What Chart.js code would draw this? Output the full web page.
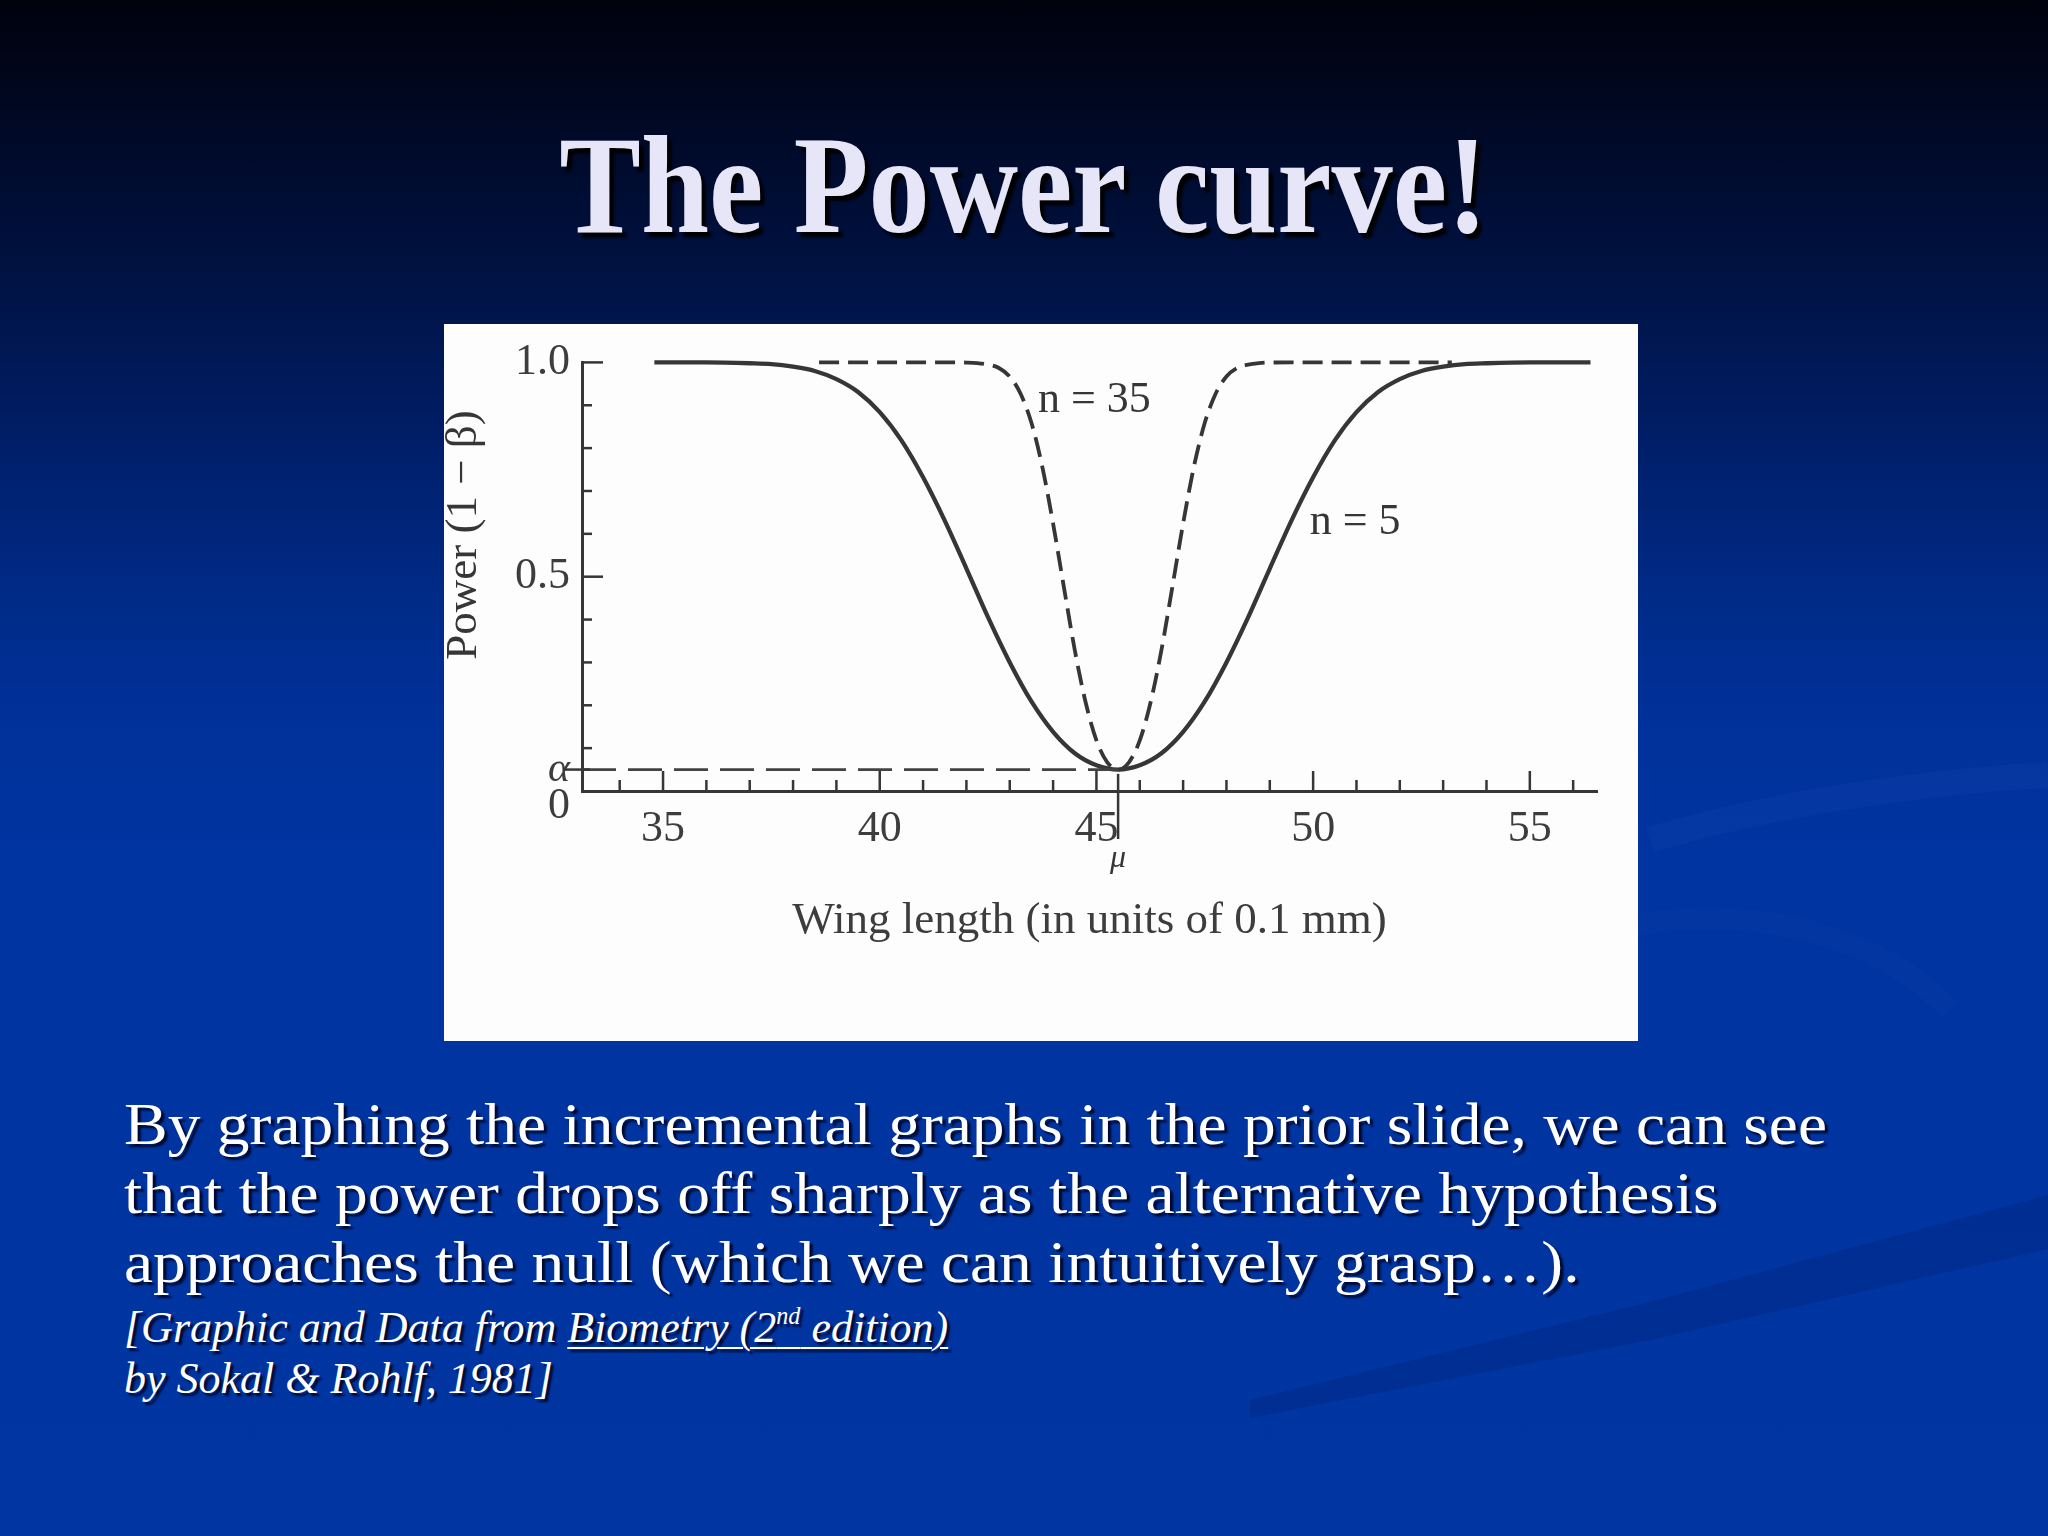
<!DOCTYPE html>
<html><head><meta charset="utf-8">
<script src="https://cdn.jsdelivr.net/npm/chart.js@4.4.1/dist/chart.umd.min.js"></script>
<style>
html,body{margin:0;padding:0;}
body{width:2048px;height:1536px;position:relative;overflow:hidden;
background:linear-gradient(to bottom,#00020c 0px,#000a2a 150px,#001448 300px,#001f6a 450px,#002b88 600px,#00319a 720px,#0034a0 850px,#0035a2 1536px);
font-family:'Liberation Serif','Times New Roman',serif;}
#bg{position:absolute;left:0;top:0;}
#title{position:absolute;left:0;width:2048px;top:105px;height:160px;line-height:160px;text-align:center;
font-weight:bold;font-size:139px;color:#e6e6f8;text-shadow:5px 5px 3px #000;white-space:nowrap;}
#title span{display:inline-block;transform:scaleX(0.88);transform-origin:center;}
#box{position:absolute;left:444px;top:324px;width:1194px;height:717px;background:#fdfdfd;}
#body{position:absolute;left:124px;top:1090px;font-size:60px;line-height:69px;color:#fff;
text-shadow:3px 3px 2px #000a30;white-space:nowrap;transform:scaleX(1.092);transform-origin:left top;}
#cite{position:absolute;left:124px;top:1302px;font-size:44px;line-height:51px;color:#fff;font-style:italic;
text-shadow:3px 3px 2px #000a30;white-space:nowrap;}
#cite u{text-decoration-thickness:2px;text-underline-offset:5px;}
#cite sup{font-size:0.55em;line-height:0;vertical-align:0.75em;}
</style></head>
<body>
<svg id="bg" width="2048" height="1536">
  <path d="M 1250 1400 L 1650 1302 L 2048 1195 L 2048 1249 L 1650 1340 L 1250 1418 Z" fill="rgba(0,20,90,0.2)"/>
  <path d="M 1650 840 C 1780 800 1950 780 2048 775" stroke="rgba(60,100,210,0.09)" stroke-width="26" fill="none"/>
  <path d="M 1500 1000 C 1600 880 1850 900 1950 1010" stroke="rgba(60,100,210,0.06)" stroke-width="22" fill="none"/>
</svg>
<div id="title"><span>The Power curve!</span></div>
<div id="box"><canvas id="c" width="1194" height="717"></canvas></div>
<div id="body">By graphing the incremental graphs in the prior slide, we can see<br>that the power drops off sharply as the alternative hypothesis<br>approaches the null (which we can intuitively grasp…).</div>
<div id="cite">[Graphic and Data from <u>Biometry (2<sup>nd</sup> edition)</u><br>by Sokal &amp; Rohlf, 1981]</div>
<script>
// ---- data ----
const n5X  = [34.8, 36.0, 37.0, 37.5, 38.0, 38.5, 39.0, 39.5, 40.0, 40.5, 41.0, 41.5, 42.0, 42.5, 43.0, 43.5, 44.0, 44.5, 45.0, 45.5, 46.0, 46.5, 47.0, 47.5, 48.0, 48.5, 49.0, 49.5, 50.0, 50.5, 51.0, 51.5, 52.0, 52.5, 53.0, 53.5, 54.0, 55.0, 56.4];
const n5Y  = [1.0, 1.0, 0.998, 0.996, 0.990, 0.980, 0.961, 0.931, 0.884, 0.818, 0.732, 0.631, 0.519, 0.405, 0.300, 0.209, 0.138, 0.088, 0.060, 0.050, 0.060, 0.088, 0.138, 0.209, 0.300, 0.405, 0.519, 0.631, 0.732, 0.818, 0.884, 0.931, 0.961, 0.980, 0.990, 0.996, 0.998, 1.0, 1.0];
const n35X = [38.6, 41.5, 42.0, 42.25, 42.5, 42.75, 43.0, 43.25, 43.5, 43.75, 44.0, 44.25, 44.5, 44.75, 45.0, 45.25, 45.5, 45.75, 46.0, 46.25, 46.5, 46.75, 47.0, 47.25, 47.5, 47.75, 48.0, 48.25, 48.5, 48.75, 49.0, 49.5, 53.2];
const n35Y = [1.0, 1.0, 0.9996, 0.9985, 0.995, 0.987, 0.967, 0.927, 0.859, 0.757, 0.624, 0.475, 0.329, 0.207, 0.118, 0.067, 0.050, 0.067, 0.118, 0.207, 0.329, 0.475, 0.624, 0.757, 0.859, 0.927, 0.967, 0.987, 0.995, 0.9985, 0.9996, 1.0, 1.0];
const alphaX = [33.13, 45.5];
const alphaY = [0.05, 0.05];
const muValue = 45.5;
const xTickValues = [34,35,36,37,38,39,40,41,42,43,44,45,46,47,48,49,50,51,52,53,54,55,56];
const xTickLabels = {35:'35', 40:'40', 45:'45', 50:'50', 55:'55'};
const yTickValues = [0,0.05,0.1,0.2,0.3,0.4,0.5,0.6,0.7,0.8,0.9,1.0];
const yTickLabels = {'0':['','0'], '0.05':'α', '0.5':'0.5', '1':'1.0'};
const seriesLabels = ['n = 5', 'n = 35', 'α level'];
const xTitle = 'Wing length (in units of 0.1 mm)';
const yTitle = 'Power (1 − β)';
const curveNotes = [{text:'n = 35', x:43.65, y:0.912}, {text:'n = 5', x:49.92, y:0.626}];

const pts = (xs, ys) => xs.map((v,i)=>({x:v, y:ys[i]}));
const INK = '#363636';
const FONT = "'Liberation Serif','Times New Roman',serif";

const decor = {
  id:'decor',
  afterDraw(chart){
    const {ctx, chartArea, scales:{x, y}} = chart;
    const left = chartArea.left, bottom = chartArea.bottom;
    ctx.save();
    ctx.strokeStyle = INK; ctx.lineWidth = 2.5; ctx.lineCap='butt';
    yTickValues.forEach(v=>{
      if (v===0) return;
      const py = y.getPixelForValue(v);
      ctx.beginPath();
      if (v===0.05){ ctx.moveTo(left-19, py); ctx.lineTo(left+8, py); }
      else { const len = (yTickLabels[String(v)]) ? 21 : 10; ctx.moveTo(left, py); ctx.lineTo(left+len, py); }
      ctx.stroke();
    });
    xTickValues.forEach(v=>{
      const px = x.getPixelForValue(v);
      const len = (v%5===0) ? 20 : 11;
      ctx.beginPath(); ctx.moveTo(px, bottom); ctx.lineTo(px, bottom-len); ctx.stroke();
    });
    const mx = x.getPixelForValue(muValue);
    ctx.beginPath(); ctx.moveTo(mx, y.getPixelForValue(0.04)); ctx.lineTo(mx, bottom+48); ctx.stroke();
    ctx.fillStyle = INK;
    ctx.font = "italic 32px " + FONT;
    ctx.textAlign='center'; ctx.textBaseline='middle';
    ctx.fillText('μ', mx, bottom+68);
    ctx.font = "44px " + FONT;
    ctx.textAlign='left';
    curveNotes.forEach(n=>{ ctx.fillText(n.text, x.getPixelForValue(n.x), y.getPixelForValue(n.y)); });
    ctx.font = "45px " + FONT;
    ctx.translate(20, 211); ctx.rotate(-Math.PI/2);
    ctx.textAlign='center'; ctx.textBaseline='middle';
    ctx.fillText(yTitle, 0, 0);
    ctx.restore();
  }
};

new Chart(document.getElementById('c'), {
  type:'scatter',
  data:{ datasets:[
    {label:seriesLabels[2], data:pts(alphaX, alphaY), showLine:true, borderColor:'#424242', borderWidth:2.8, borderDash:[34,12], pointRadius:0, clip:false},
    {label:seriesLabels[1], data:pts(n35X, n35Y), showLine:true, borderColor:INK, borderWidth:3.8, borderDash:[20,9], pointRadius:0, cubicInterpolationMode:'monotone', clip:false},
    {label:seriesLabels[0], data:pts(n5X, n5Y), showLine:true, borderColor:INK, borderWidth:4.3, pointRadius:0, cubicInterpolationMode:'monotone', clip:false}
  ]},
  options:{
    responsive:false, animation:false, devicePixelRatio:1,
    layout:{padding:{left:0, top:37, right:41, bottom:0}},
    plugins:{legend:{display:false}, tooltip:{enabled:false}},
    scales:{
      x:{type:'linear', min:33.13, max:56.55,
        afterBuildTicks(s){ s.ticks = xTickValues.map(v=>({value:v})); },
        afterFit(s){ s.height = 250; },
        grid:{display:false, drawTicks:false},
        border:{display:true, color:INK, width:3},
        ticks:{autoSkip:false, maxRotation:0, padding:12, color:'#3d3d3d', font:{family:FONT, size:44},
          callback:(v)=> xTickLabels[v] || ''},
        title:{display:true, text:xTitle, color:'#3d3d3d', font:{family:FONT, size:45}, padding:{top:0, bottom:93}}
      },
      y:{type:'linear', min:0, max:1,
        afterBuildTicks(s){ s.ticks = yTickValues.map(v=>({value:v})); },
        afterFit(s){ s.width = 138; },
        grid:{display:false, drawTicks:false},
        border:{display:true, color:INK, width:3},
        ticks:{autoSkip:false, padding:12, color:'#3d3d3d',
          font:(c)=>{
            const v = c.tick ? c.tick.value : null;
            if (v===0.05) return {family:FONT, size:42, style:'italic'};
            if (v===0) return {family:FONT, size:44, lineHeight:'30px'};
            return {family:FONT, size:44};
          },
          callback:(v)=> yTickLabels[String(Math.round(v*100)/100)] || ''}
      }
    }
  },
  plugins:[decor]
});
</script>
</body></html>
